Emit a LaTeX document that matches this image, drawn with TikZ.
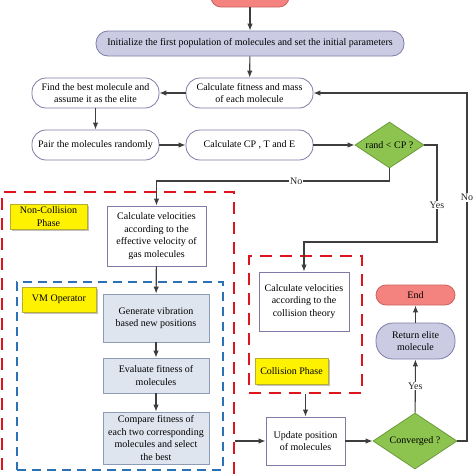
\documentclass[tikz,border=0pt]{standalone}
\usepackage{fontspec}
\setmainfont{Liberation Serif}
\usetikzlibrary{shapes.geometric,arrows.meta,shadows}

\definecolor{termred}{HTML}{F4837F}
\definecolor{termredline}{HTML}{C9615E}
\definecolor{lavender}{HTML}{CBCBE4}
\definecolor{lavline}{HTML}{7E7CA6}
\definecolor{decgreen}{HTML}{8DC450}
\definecolor{decline}{HTML}{6C9A3A}
\definecolor{vmfill}{HTML}{DFE5EF}
\definecolor{vmline}{HTML}{8D9BB7}
\definecolor{phasered}{HTML}{E0141C}
\definecolor{phaseblue}{HTML}{2A72B5}
\definecolor{tagyellow}{HTML}{FFF200}
\definecolor{tagline}{HTML}{B9AE2A}
\definecolor{linegray}{HTML}{3E3E3E}

\tikzset{
  arr/.style={draw=linegray, line width=1.1pt, -{Latex[length=7pt,width=5.5pt]}},
  pill/.style={draw=lavline, line width=0.8pt, fill=white, align=center, inner sep=0pt},
  plainbox/.style={draw=lavline, line width=0.8pt, fill=white, align=center, inner sep=0pt},
  vmbox/.style={draw=vmline, line width=0.8pt, fill=vmfill, align=center, inner sep=0pt},
  decision/.style={diamond, draw=decline, line width=0.8pt, fill=decgreen, inner sep=0pt, shape aspect=1.5, align=center},
  phasetag/.style={draw=tagline, line width=0.6pt, fill=tagyellow, align=center, inner sep=0pt,
    drop shadow={shadow xshift=2pt, shadow yshift=-2pt, fill=gray!60, opacity=0.8}},
  redgroup/.style={draw=phasered, line width=2.6pt, dash pattern=on 12pt off 8pt, inner sep=0pt},
  bluegroup/.style={draw=phaseblue, line width=2pt, dash pattern=on 9pt off 6pt, inner sep=0pt},
  edgetag/.style={fill=white, inner sep=1pt, text=black!85}
}

\begin{document}
\begin{tikzpicture}[x=1pt,y=-1pt,font=\fontsize{10}{12.7}\selectfont]
\useasboundingbox (0,0) rectangle (474,474);

% Phase groups (behind everything)
\node[redgroup, minimum width=232, minimum height=290] (ncgrp) at (118,337) {};
\node[bluegroup, minimum width=206, minimum height=188] (vmgrp) at (120,376) {};
\node[redgroup, minimum width=113, minimum height=137] (colgrp) at (305.5,324.5) {};

% Phase tags
\node[phasetag, minimum width=77, minimum height=25] (nctag) at (48.5,216.5) {Non-Collision\\Phase};
\node[phasetag, minimum width=74, minimum height=25] (vmtag) at (59,299.5) {VM Operator};
\node[phasetag, minimum width=73, minimum height=26] (coltag) at (291.5,371) {Collision Phase};

% Top of the flow
\node[pill, draw=termredline, fill=termred, rounded corners=10pt, minimum width=78, minimum height=22] (start) at (250,-4) {};
\node[pill, fill=lavender, rounded corners=12pt, minimum width=308, minimum height=25] (init) at (250,43.5)
  {Initialize the first population of molecules and set the initial parameters};
\node[pill, rounded corners=14pt, minimum width=127, minimum height=30] (fit) at (249.5,93)
  {Calculate fitness and mass\\of each molecule};
\node[pill, rounded corners=14pt, minimum width=127, minimum height=30] (best) at (95.5,93)
  {Find the best molecule and\\assume it as the elite};
\node[pill, rounded corners=14pt, minimum width=127, minimum height=30] (pair) at (95.5,145)
  {Pair the molecules randomly};
\node[pill, rounded corners=14pt, minimum width=127, minimum height=30] (cp) at (249.5,145)
  {Calculate CP , T and E};
\node[decision, minimum width=69, minimum height=46] (rand) at (389.5,145) {rand < CP ?};

% Non-collision phase
\node[plainbox, minimum width=99, minimum height=60] (ncalc) at (156.5,236)
  {Calculate velocities\\according to the\\effective velocity of\\gas molecules};
\node[vmbox, minimum width=106, minimum height=48] (gen) at (156,318)
  {Generate vibration\\based new positions};
\node[vmbox, minimum width=106, minimum height=35] (eval) at (156,375.5)
  {Evaluate fitness of\\molecules};
\node[vmbox, minimum width=106, minimum height=52] (comp) at (156,438)
  {Compare fitness of\\each two corresponding\\molecules and select\\the best};

% Collision phase
\node[plainbox, minimum width=90, minimum height=59] (ccalc) at (304,301.5)
  {Calculate velocities\\according to the\\collision theory};

% Bottom right
\node[plainbox, minimum width=79, minimum height=48] (upd) at (305.5,441)
  {Update position\\of molecules};
\node[decision, minimum width=84, minimum height=56] (conv) at (415,441) {Converged ?};
\node[pill, fill=lavender, rounded corners=17pt, minimum width=79, minimum height=36] (ret) at (415.5,341)
  {Return elite\\molecule};
\node[pill, draw=termredline, fill=termred, rounded corners=10pt, minimum width=79, minimum height=20] (endn) at (415.5,295)
  {End};

% Bend points
\coordinate (nobend) at (389.5,181);
\coordinate (yesbend) at (437,242);
\coordinate (loopback) at (467,93);

% Connectors
\draw[arr] (start) -- (init);
\draw[arr] (init) -- (fit);
\draw[arr] (fit) -- (best);
\draw[arr] (best) -- (pair);
\draw[arr] (pair) -- (cp);
\draw[arr] (cp) -- (rand);
\draw[arr] (rand.south) -- (nobend) -| (ncalc.north) node[pos=0.2, edgetag] {No};
\draw[arr] (rand.east) -| (yesbend) node[pos=0.81, edgetag] {Yes} -| (ccalc.north);
\draw[arr] (ncalc) -- (gen);
\draw[arr] (gen) -- (eval);
\draw[arr] (eval) -- (comp);
\draw[arr] (colgrp.south) -- (upd.north);
\draw[arr] (ncgrp.east |- upd.west) -- (upd.west);
\draw[arr] (upd) -- (conv);
\draw[arr] (conv) -- (ret) node[midway, edgetag] {Yes};
\draw[arr] (ret) -- (endn);
\draw[arr] (conv.east) -| (loopback) node[pos=0.85, edgetag] {No} -- (fit.east);
\end{tikzpicture}
\end{document}
